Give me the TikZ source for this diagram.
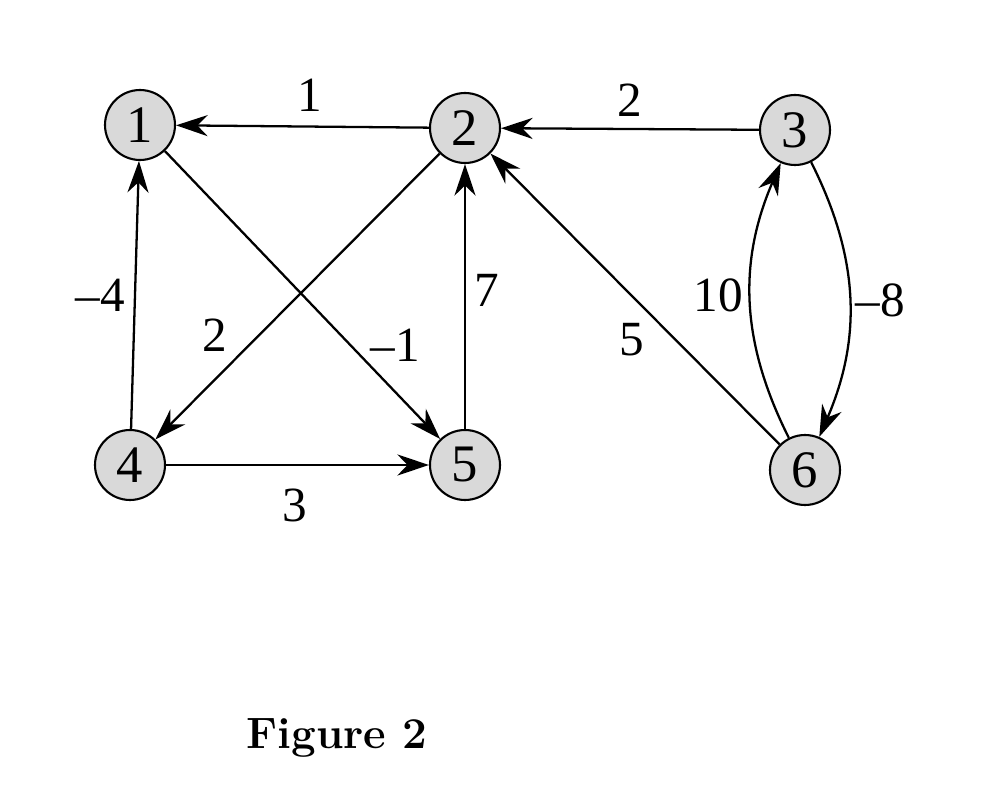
\documentclass[tikz,border=0pt]{standalone}
\usepackage{fontspec}
\setmainfont{Liberation Serif}
\newfontfamily\capfont{Latin Modern Roman}
\usetikzlibrary{arrows.meta}

\begin{document}
\begin{tikzpicture}[x={(0.02cm,0)}, y={(0,-0.02cm)},
  vertex/.style={circle, draw, line width=1.2pt, fill=black!15, minimum size=1.4cm, inner sep=0pt, font=\fontsize{30}{30}\selectfont},
  edge/.style={draw, line width=1.3pt, arrows={-Stealth[length=18pt, width=12pt]}},
  wlabel/.style={font=\fontsize{28}{28}\selectfont}]
  \useasboundingbox (0,0) rectangle (987,810);
  \node[vertex] (n1) at (140,125) {1};
  \node[vertex] (n2) at (465,128) {2};
  \node[vertex] (n3) at (795,130) {3};
  \node[vertex] (n4) at (130,465) {4};
  \node[vertex] (n5) at (465,465) {5};
  \node[vertex] (n6) at (805,470) {6};
  % straight edges
  \path[edge] (n2) -- (n1);
  \path[edge] (n3) -- (n2);
  \path[edge] (n4) -- (n1);
  \path[edge] (n2) -- (n4);
  \path[edge] (n1) -- (n5);
  \path[edge] (n5) -- (n2);
  \path[edge] (n6) -- (n2);
  \path[edge] (n4) -- (n5);
  % the pair between 3 and 6
  \path[edge] (n6) to[bend left=25] (n3);
  \path[edge] (n3) to[bend left=25] (n6);
  % weights
  \node[wlabel] (w21) at (310,95) {1};
  \node[wlabel] (w32) at (630,100) {2};
  \node[wlabel] (w41) at (100,295) {\textendash4};
  \node[wlabel] (w24) at (215,335) {2};
  \node[wlabel] (w15) at (395,345) {\textendash1};
  \node[wlabel] (w52) at (487,290) {7};
  \node[wlabel] (w62) at (632,340) {5};
  \node[wlabel] (w63) at (718,295) {10};
  \node[wlabel] (w36) at (880,300) {\textendash8};
  \node[wlabel] (w45) at (295,505) {3};
  \node[font=\capfont\bfseries\fontsize{25}{25}\selectfont] (caption) at (337,738) {Figure 2};
\end{tikzpicture}
\end{document}
